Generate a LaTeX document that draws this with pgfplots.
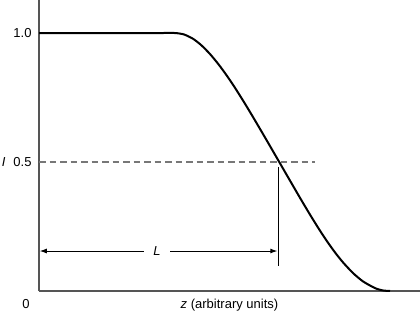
\documentclass[border=0pt]{standalone}
\usepackage{fontspec}
\setmainfont{Liberation Sans}
\usepackage{pgfplots}
\pgfplotsset{compat=1.18}
\usetikzlibrary{arrows.meta}
\definecolor{axgray}{HTML}{555555}
\definecolor{dashgray}{HTML}{777777}
\begin{document}
\begin{tikzpicture}
\begin{axis}[
  name=ax,
  scale only axis,
  width=381bp, height=291bp,
  xmin=0, xmax=381, ymin=0, ymax=1.128,
  axis x line=bottom, axis y line=left,
  axis line style={-, axgray, line width=1.3bp},
  xtick=\empty,
  ytick={0.5,1.0},
  yticklabels={\textit{I}\hspace{8bp}0.5,1.0},
  major tick length=0pt,
  tick label style={font=\fontsize{13bp}{15bp}\selectfont},
  yticklabel style={xshift=-4bp},
  clip=false,
]
\addplot[black, line width=2bp, smooth, tension=0.4] coordinates {
(0,1) (60,1) (120,1) (136,1) (145,0.9944) (154,0.9777) (162,0.9538)
(171,0.9186) (180,0.8763) (188,0.8338) (196,0.7876) (204,0.7385) (212,0.6874)
(221,0.6284) (230,0.5686) (239,0.5083) (246,0.4614) (254,0.4078) (262,0.3546)
(271,0.2961) (280,0.2399) (288,0.1929) (296,0.1496) (304,0.1109) (314,0.0696)
(324,0.0372) (336,0.0112) (344,0.0021) (351,0.0)
};
\addplot[dashgray, line width=1.4bp, dash pattern=on 6.5bp off 4bp] coordinates {(0,0.5) (276,0.5)};
\addplot[black, line width=1bp] coordinates {(239,0.481) (239,0.097)};
\addplot[black, line width=0.9bp, {Latex[length=7bp,width=5bp]}-{Latex[length=7bp,width=5bp]}] coordinates {(0.8,0.155) (238.3,0.155)};
\node[fill=white, inner xsep=9bp, inner ysep=1bp, font=\fontsize{13bp}{15bp}\selectfont] at (axis cs:118,0.155) {\textit{L}};
\node[anchor=base, font=\fontsize{13bp}{15bp}\selectfont] at (axis cs:-13,-0.066) {0};
\node[anchor=base, font=\fontsize{13bp}{15bp}\selectfont] at (axis cs:190.5,-0.066) {\textit{z} (arbitrary units)};
\end{axis}
\pgfresetboundingbox
\path ([xshift=-39bp,yshift=-21bp]ax.south west) rectangle (ax.north east);
\end{tikzpicture}
\end{document}
